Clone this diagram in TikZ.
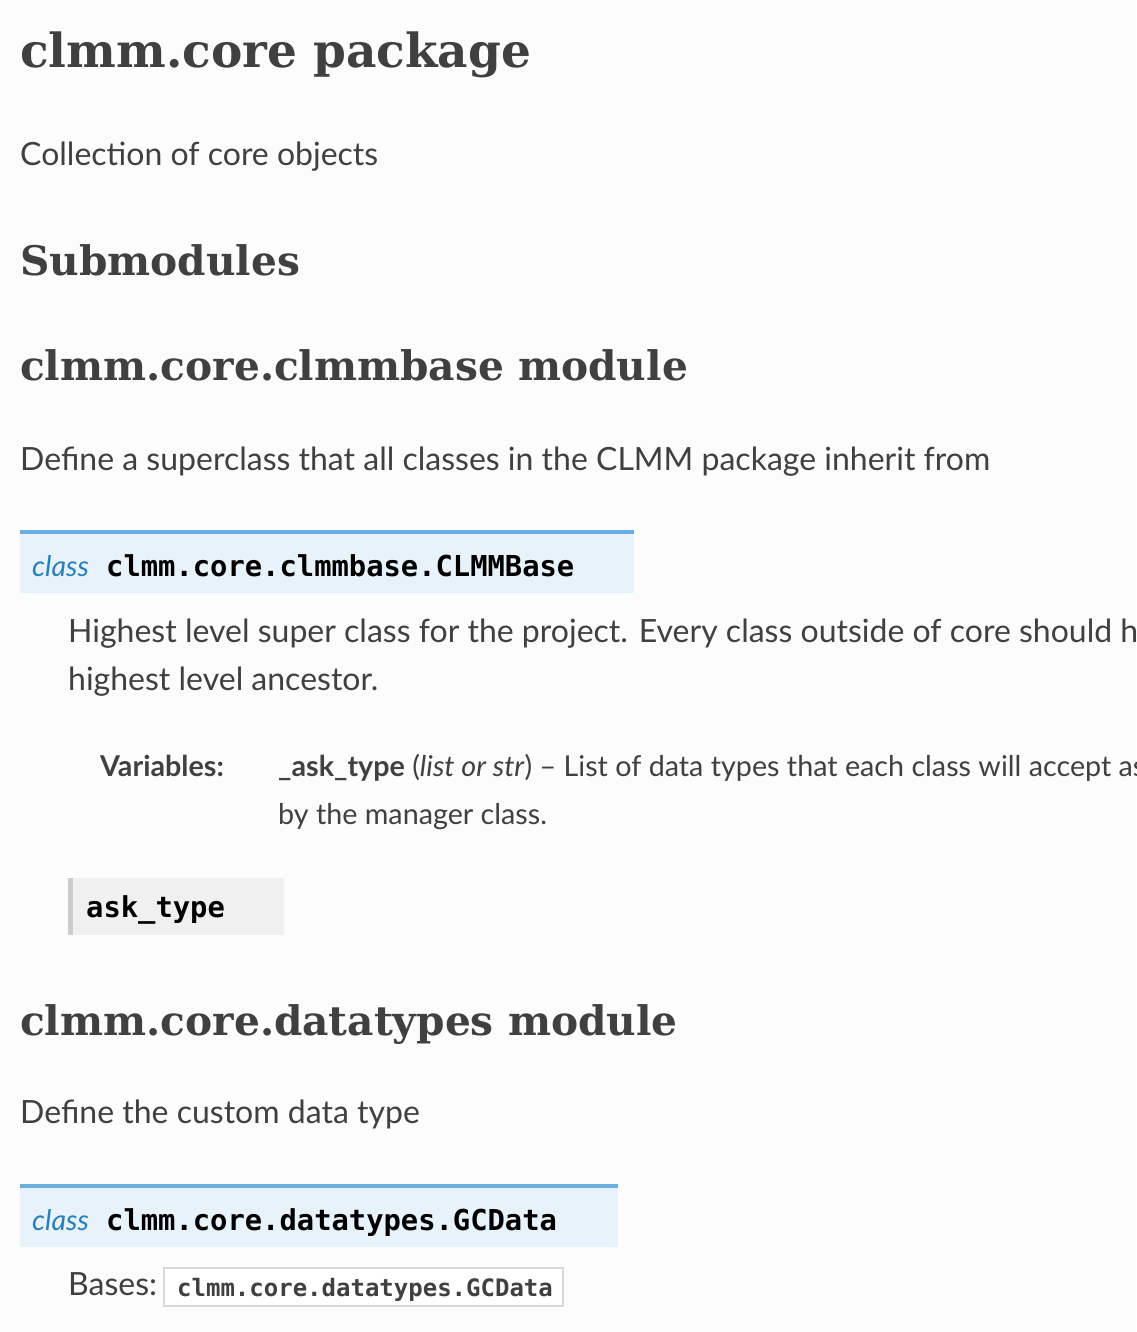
\documentclass[tikz,border=0pt]{standalone}
\usepackage{fontspec}
\setmainfont{Lato}
\newfontfamily\hfont{DejaVu Serif}
\setmonofont{DejaVu Sans Mono}
\definecolor{txt}{HTML}{404040}
\definecolor{clsblue}{HTML}{2980B9}
\definecolor{boxbg}{HTML}{E7F2FA}
\definecolor{boxtop}{HTML}{6AB0DE}
\definecolor{pagebg}{HTML}{FCFCFC}
\begin{document}
\begin{tikzpicture}[x=1pt,y=-1pt,
  every node/.style={anchor=base west,inner sep=0pt,text=txt},
  hone/.style={font=\hfont\bfseries\fontsize{47}{52}\selectfont},
  htwo/.style={font=\hfont\bfseries\fontsize{40.7}{46}\selectfont},
  body/.style={font=\fontsize{32}{36}\selectfont},
  var/.style={font=\fontsize{28.7}{32}\selectfont},
  code/.style={font=\ttfamily\bfseries\fontsize{28.8}{32}\selectfont,text=black},
  cls/.style={text=clsblue,font=\itshape\fontsize{28.5}{32}\selectfont}]
\useasboundingbox (0,0) rectangle (1136,1332);
\clip (0,0) rectangle (1136,1332);
\fill[pagebg] (0,0) rectangle (1136,1332);
\node[hone] (t1) at (20,68) {clmm.core package};
\node[body] (p1) at (20,166) {Collection of core objects};
\node[htwo] (t2) at (20,276) {Submodules};
\node[htwo] (t3) at (20,380) {clmm.core.clmmbase module};
\node[body] (p2) at (20,470) {Define a superclass that all classes in the CLMM package inherit from};
\fill[boxbg] (20,530) rectangle (634,593);
\fill[boxtop] (20,530) rectangle (634,534);
\node[cls] (c1) at (32,576) {class};
\node[code] (c1n) at (106,576) {clmm.core.clmmbase.CLMMBase};
\node[body] (p3) at (68,642) {Highest level super class for the project. Every class outside of core should have};
\node[body] (p4) at (68,690) {highest level ancestor.};
\node[var,font=\bfseries\fontsize{28.7}{32}\selectfont] (v) at (100,776) {Variables:};
\node[var] (v1) at (278,776) {\textbf{\_ask\_type} (\textit{list or str}) -- List of data types that each class will accept as};
\node[var] (v2) at (278,824) {by the manager class.};
\fill[black!6] (68,878) rectangle (284,935);
\fill[black!20] (68,878) rectangle (73,935);
\node[code] (a) at (86,917) {ask\_type};
\node[htwo] (t4) at (20,1035) {clmm.core.datatypes module};
\node[body] (p5) at (20,1123) {Define the custom data type};
\fill[boxbg] (20,1184) rectangle (618,1247);
\fill[boxtop] (20,1184) rectangle (618,1188);
\node[cls] (c2) at (32,1230) {class};
\node[code] (c2n) at (106,1230) {clmm.core.datatypes.GCData};
\node[body] (b) at (68,1295) {Bases:};
\draw[black!15,fill=white,line width=1.5pt] (164,1268) rectangle (563,1306);
\node[code,font=\ttfamily\bfseries\fontsize{24}{28}\selectfont,text=txt] (bc) at (177,1296) {clmm.core.datatypes.GCData};
\end{tikzpicture}
\end{document}
